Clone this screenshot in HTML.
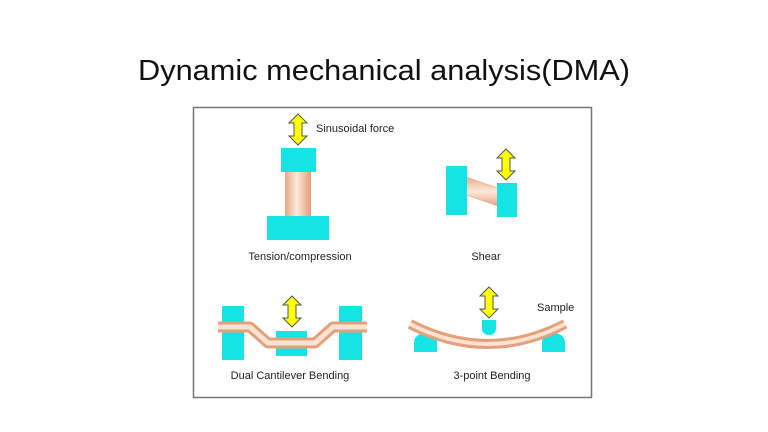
<!DOCTYPE html>
<html><head><meta charset="utf-8"><style>
html,body{margin:0;padding:0;background:#fff}
svg{display:block}
text{font-family:"Liberation Sans",Arial,sans-serif}
</style></head><body>
<svg width="768" height="432" viewBox="0 0 768 432">
<defs>
<linearGradient id="col" x1="0" x2="1" y1="0" y2="0">
<stop offset="0" stop-color="#e9a883"/><stop offset="0.45" stop-color="#fde9dc"/><stop offset="1" stop-color="#e49c76"/>
</linearGradient>
<linearGradient id="strip" x1="0" x2="0" y1="0" y2="1">
<stop offset="0" stop-color="#eaa985"/><stop offset="0.5" stop-color="#fde9dc"/><stop offset="1" stop-color="#e7a37e"/>
</linearGradient>
<g id="arr">
<polygon points="9,0 18,9 13,9 13,22 18,22 9,31 0,22 5,22 5,9 0,9" fill="#ffff00" stroke="#555" stroke-width="1"/>
</g>
</defs>
<text x="384" y="80" font-size="29" text-anchor="middle" textLength="492" lengthAdjust="spacingAndGlyphs" fill="#111">Dynamic mechanical analysis(DMA)</text>
<rect x="193.5" y="107.5" width="398" height="290" fill="#fff" stroke="#777" stroke-width="1.5"/>

<!-- Tension -->
<use href="#arr" x="289" y="114"/>
<text x="316" y="132" font-size="11" fill="#222">Sinusoidal force</text>
<rect x="285" y="172" width="26" height="44" fill="url(#col)"/>
<rect x="281" y="148" width="35" height="24" fill="#16e3e3"/>
<rect x="267" y="216" width="62" height="24" fill="#16e3e3"/>
<text x="300" y="260" font-size="11" fill="#222" text-anchor="middle">Tension/compression</text>

<!-- Shear -->
<polygon points="466,177 498,188 498,206 466,195" fill="url(#strip)" stroke="#e2a07c" stroke-width="0.5"/>
<rect x="446" y="166" width="21" height="49" fill="#16e3e3"/>
<rect x="497" y="183" width="20" height="34" fill="#16e3e3"/>
<use href="#arr" x="497" y="149"/>
<text x="486" y="260" font-size="11" fill="#222" text-anchor="middle">Shear</text>

<!-- Dual cantilever -->
<rect x="222" y="306" width="22" height="54" fill="#16e3e3"/>
<rect x="339" y="306" width="23" height="54" fill="#16e3e3"/>
<rect x="276" y="331" width="31" height="25" fill="#16e3e3"/>
<path d="M218,327 L250,327 L268,343 L315,343 L333,327 L367,327" fill="none" stroke="#e4a07b" stroke-width="11" stroke-linejoin="round"/>
<path d="M218,327 L250,327 L268,343 L315,343 L333,327 L367,327" fill="none" stroke="#fbe2d3" stroke-width="5" stroke-linejoin="round"/>
<use href="#arr" x="283" y="296"/>
<text x="290" y="379" font-size="11" fill="#222" text-anchor="middle">Dual Cantilever Bending</text>

<!-- 3-point -->
<path d="M414,352 L414,342 A11.5,9 0 0 1 437,342 L437,352 Z" fill="#16e3e3"/>
<path d="M542,352 L542,342 A11.5,9 0 0 1 565,342 L565,352 Z" fill="#16e3e3"/>
<path d="M410,324 Q488,364 565,324" fill="none" stroke="#e4a07b" stroke-width="10"/>
<path d="M410,324 Q488,364 565,324" fill="none" stroke="#fbe2d3" stroke-width="4"/>
<path d="M482,320 L496,320 L496,329 A7,6 0 0 1 482,329 Z" fill="#16e3e3"/>
<use href="#arr" x="480" y="287"/>
<text x="537" y="311" font-size="11" fill="#222">Sample</text>
<text x="492" y="379" font-size="11" fill="#222" text-anchor="middle">3-point Bending</text>
</svg>
</body></html>
